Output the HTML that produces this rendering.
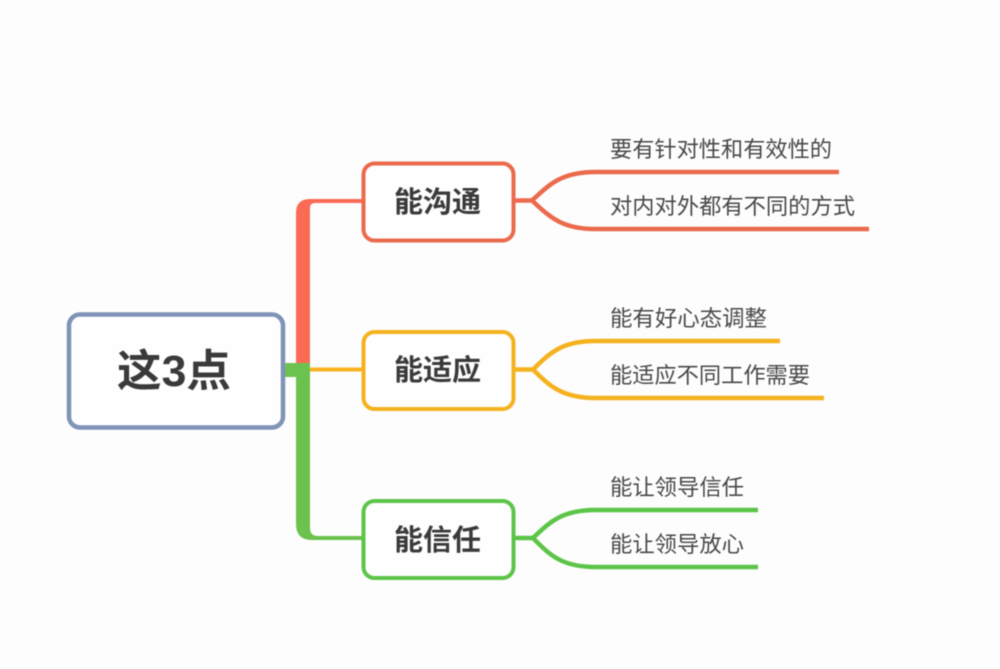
<!DOCTYPE html>
<html><head><meta charset="utf-8">
<style>
html,body{margin:0;padding:0;background:#fdfdfe;}
svg{display:block;filter:blur(0.5px);}
text{font-family:"Liberation Sans","Noto Sans CJK SC",sans-serif;fill:#3a3a3a;}
.b{font-weight:700;font-size:29px;}
.s{font-size:22px;fill:#484848;}
</style></head><body>
<svg width="1000" height="669" viewBox="0 0 1000 669" xmlns="http://www.w3.org/2000/svg">
<rect width="1000" height="669" fill="#fdfdfe"/>

<!-- trunk -->
<path d="M362 199 H310 Q296 199 296 213 V364 H310 V208 Q310 203 315 203 H362 Z" fill="#fb6a54"/>
<path d="M283 363 H310 V528 Q310 536 318 536 H362 V540 H312 Q296 540 296 524 V377 H283 Z" fill="#6cc24e"/>
<path d="M310 369.500 H362" stroke="#f9b320" stroke-width="4" fill="none"/>

<!-- root -->
<rect x="69" y="314.500" width="214" height="113" rx="11" fill="#fefefe" stroke="#7f93b7" stroke-width="4.500"/>
<text x="117" y="386" style="font-weight:700;font-size:44px" textLength="114" lengthAdjust="spacingAndGlyphs">这3点</text>

<!-- red -->
<rect x="363.500" y="163.500" width="150" height="77" rx="11" fill="#fefefe" stroke="#ec6a4c" stroke-width="4"/>
<text class="b" x="394" y="212">能沟通</text>
<path d="M514 200.500 H532" stroke="#ec6a4c" stroke-width="4.500" fill="none"/>
<path d="M869 229 H595 C560 229 548 215 532 200.500 C548 186 560 172 595 172 H839" stroke="#ec6a4c" stroke-width="4.500" fill="none"/>
<text class="s" x="610" y="157" textLength="222" lengthAdjust="spacingAndGlyphs">要有针对性和有效性的</text>
<text class="s" x="610" y="214" textLength="245" lengthAdjust="spacingAndGlyphs">对内对外都有不同的方式</text>

<!-- yellow -->
<rect x="363.500" y="332" width="150" height="77" rx="11" fill="#fefefe" stroke="#f5b21f" stroke-width="4"/>
<text class="b" x="394" y="380">能适应</text>
<path d="M514 369.500 H533" stroke="#f5b21f" stroke-width="4.500" fill="none"/>
<path d="M824 398 H595 C560 398 548 384 533 369.500 C548 355 560 341 595 341 H780" stroke="#f5b21f" stroke-width="4.500" fill="none"/>
<text class="s" x="610" y="326" textLength="157" lengthAdjust="spacingAndGlyphs">能有好心态调整</text>
<text class="s" x="610" y="383" textLength="200" lengthAdjust="spacingAndGlyphs">能适应不同工作需要</text>

<!-- green -->
<rect x="363.500" y="501" width="150" height="77" rx="11" fill="#fefefe" stroke="#5cc548" stroke-width="4"/>
<text class="b" x="394" y="550">能信任</text>
<path d="M514 538 H533" stroke="#5cc548" stroke-width="4.500" fill="none"/>
<path d="M758 567 H595 C560 567 548 553 533 538 C548 524 560 510 595 510 H758" stroke="#5cc548" stroke-width="4.500" fill="none"/>
<text class="s" x="610" y="495" textLength="134" lengthAdjust="spacingAndGlyphs">能让领导信任</text>
<text class="s" x="610" y="552" textLength="134" lengthAdjust="spacingAndGlyphs">能让领导放心</text>
</svg>
</body></html>
